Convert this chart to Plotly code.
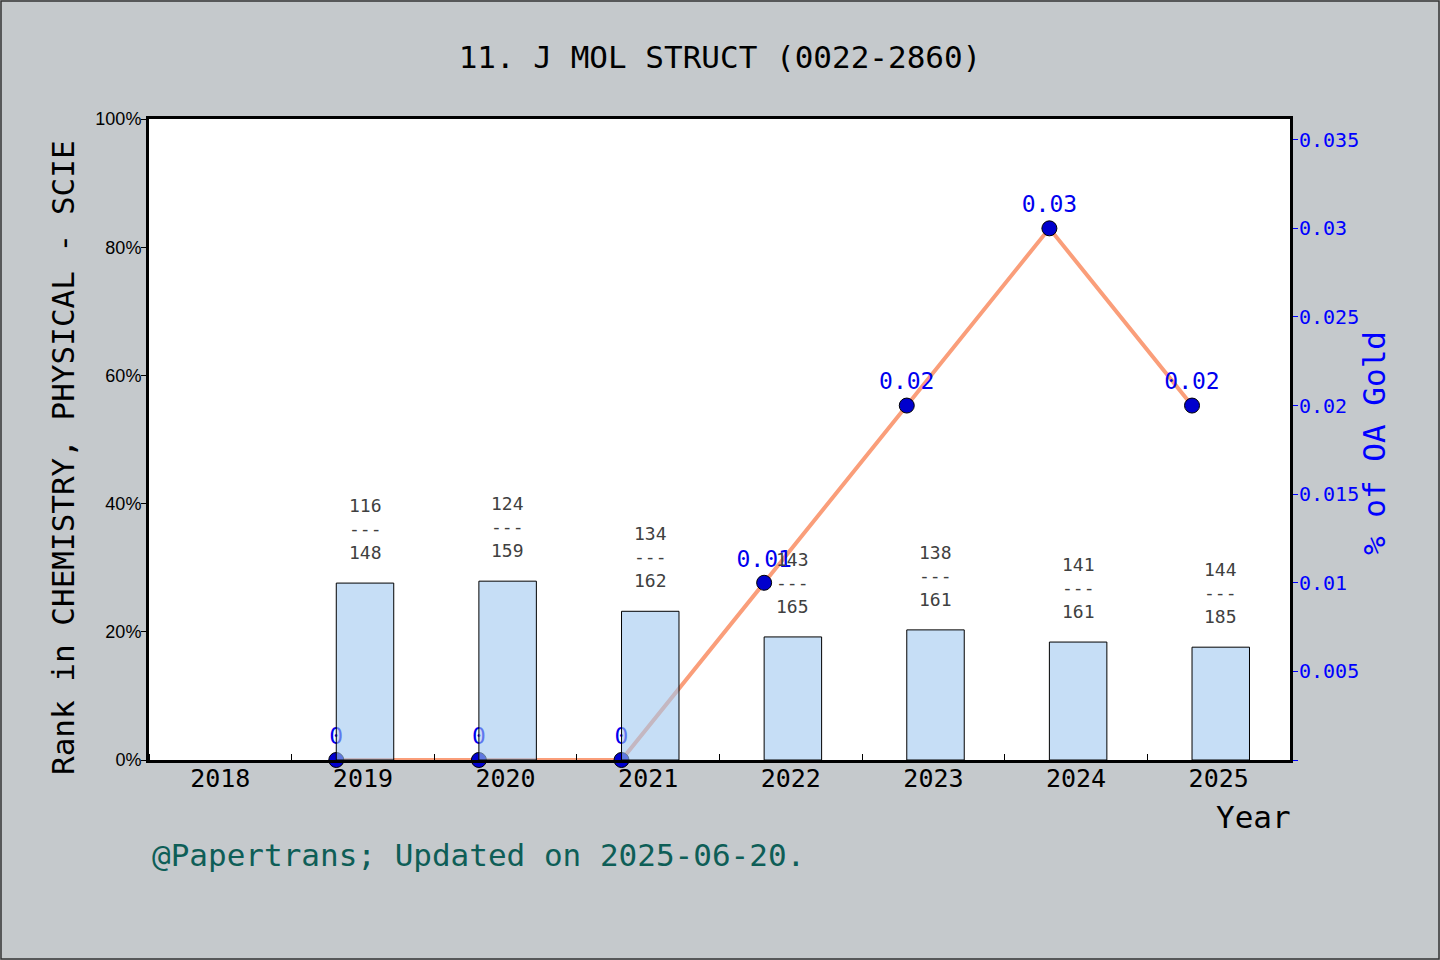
import plotly.graph_objects as go

# data
years = [2018, 2019, 2020, 2021, 2022, 2023, 2024, 2025]
bar_years = [2019, 2020, 2021, 2022, 2023, 2024, 2025]
rank_pct = [27.6, 27.9, 23.2, 19.2, 20.3, 18.4, 17.6]
rank_pos = [116, 124, 134, 143, 138, 141, 144]
cat_total = [148, 159, 162, 165, 161, 161, 185]
oa_gold = [0, 0, 0, 0.01, 0.02, 0.03, 0.02]
oa_labels = ["0", "0", "0", "0.01", "0.02", "0.03", "0.02"]
right_ticks = [0, 0.005, 0.01, 0.015, 0.02, 0.025, 0.03, 0.035]
right_ticktext = ["", "0.005", "0.01", "0.015", "0.02", "0.025", "0.03", "0.035"]
left_ticks = [0, 20, 40, 60, 80, 100]

MONO = "DejaVu Sans Mono"
W, H = 1440, 960
ML, MR, MT, MB = 149, 150, 119, 200
pw, ph = W - ML - MR, H - MT - MB
line_off = -0.187
bar_w = 0.403


def px_x(x):
    return (x - ML) / pw


def px_y(y):
    return (H - MB - y) / ph


fig = go.Figure()

# line on the primary (right side) axis so the bars sit on top of it
fig.add_trace(go.Scatter(
    x=[y + line_off for y in bar_years],
    y=oa_gold,
    mode="lines+markers+text",
    text=oa_labels,
    textposition="top center",
    textfont=dict(family=MONO, size=23, color="#0000EE"),
    line=dict(color="#FA9E7A", width=4),
    marker=dict(size=15, color="#0000CD", line=dict(color="black", width=1)),
    yaxis="y",
    showlegend=False,
    cliponaxis=False,
))

fig.add_trace(go.Bar(
    x=bar_years,
    y=rank_pct,
    width=bar_w,
    offset=line_off,
    marker=dict(color="rgba(160,200,240,0.6)", line=dict(color="black", width=1)),
    yaxis="y2",
    showlegend=False,
))

for yr, v, r, t in zip(bar_years, rank_pct, rank_pos, cat_total):
    fig.add_annotation(
        x=yr + line_off + bar_w / 2, y=v, xref="x", yref="y2",
        text=f"{r}<br>---<br>{t}", showarrow=False,
        yanchor="bottom", yshift=18,
        font=dict(family=MONO, size=18, color="#404040"),
    )

fig.update_layout(
    width=W, height=H,
    margin=dict(l=ML, r=MR, t=MT, b=MB),
    paper_bgcolor="#C5C9CC",
    plot_bgcolor="white",
    title=dict(text="11. J MOL STRUCT (0022-2860)", x=0.5, xanchor="center",
               y=1 - 57 / H, yanchor="middle",
               font=dict(family=MONO, size=31, color="black")),
    xaxis=dict(
        range=[2017.5, 2025.5],
        tickvals=years,
        ticktext=[str(y) for y in years],
        ticks="",
        tickfont=dict(family=MONO, size=25, color="black"),
        showgrid=False, zeroline=False,
        showline=True, linecolor="black", linewidth=3, mirror=True,
        minor=dict(tick0=2017.5, dtick=1, ticks="inside", ticklen=6,
                   tickcolor="black", tickwidth=1, showgrid=False),
        ticklabelstandoff=-6,
    ),
    yaxis=dict(
        side="right",
        range=[0, 0.03617],
        tickvals=right_ticks,
        ticktext=right_ticktext,
        ticks="outside", ticklen=5, tickcolor="blue",
        tickfont=dict(family=MONO, size=20, color="blue"),
        showgrid=False, zeroline=False,
        showline=True, linecolor="black", linewidth=3,
        ticklabelstandoff=-3,
    ),
    yaxis2=dict(
        overlaying="y", side="left",
        range=[0, 100],
        tickvals=left_ticks,
        ticktext=[f"{v}%" for v in left_ticks],
        ticks="outside", ticklen=5, tickcolor="black",
        tickfont=dict(family="Liberation Sans", size=18, color="black"),
        showgrid=False, zeroline=False,
        showline=True, linecolor="black", linewidth=3,
        ticklabelstandoff=-4,
    ),
)

# axis titles and footer placed as annotations
fig.add_annotation(
    x=px_x(63), y=px_y(458), xref="paper", yref="paper",
    xanchor="center", yanchor="middle",
    text="Rank in CHEMISTRY, PHYSICAL - SCIE", textangle=-90,
    showarrow=False, font=dict(family=MONO, size=31, color="black"),
)
fig.add_annotation(
    x=px_x(1374), y=px_y(443), xref="paper", yref="paper",
    xanchor="center", yanchor="middle",
    text="% of OA Gold", textangle=-90,
    showarrow=False, font=dict(family=MONO, size=31, color="blue"),
)
fig.add_annotation(
    x=px_x(1253), y=px_y(817), xref="paper", yref="paper",
    xanchor="center", yanchor="middle",
    text="Year", showarrow=False,
    font=dict(family=MONO, size=31, color="black"),
)
fig.add_annotation(
    x=px_x(150), y=px_y(855), xref="paper", yref="paper",
    xanchor="left", yanchor="middle",
    text="@Papertrans; Updated on 2025-06-20.", showarrow=False,
    font=dict(family=MONO, size=31, color="#0E5E57"),
)

# thin frame around the whole image
fig.add_shape(
    type="rect", xref="paper", yref="paper", layer="below",
    x0=px_x(1), x1=px_x(W - 1), y0=px_y(H - 1), y1=px_y(1),
    line=dict(color="#333333", width=1.5),
)

fig.write_html("out.html", config={"displayModeBar": False},
               post_script="document.body.style.margin='0';")
